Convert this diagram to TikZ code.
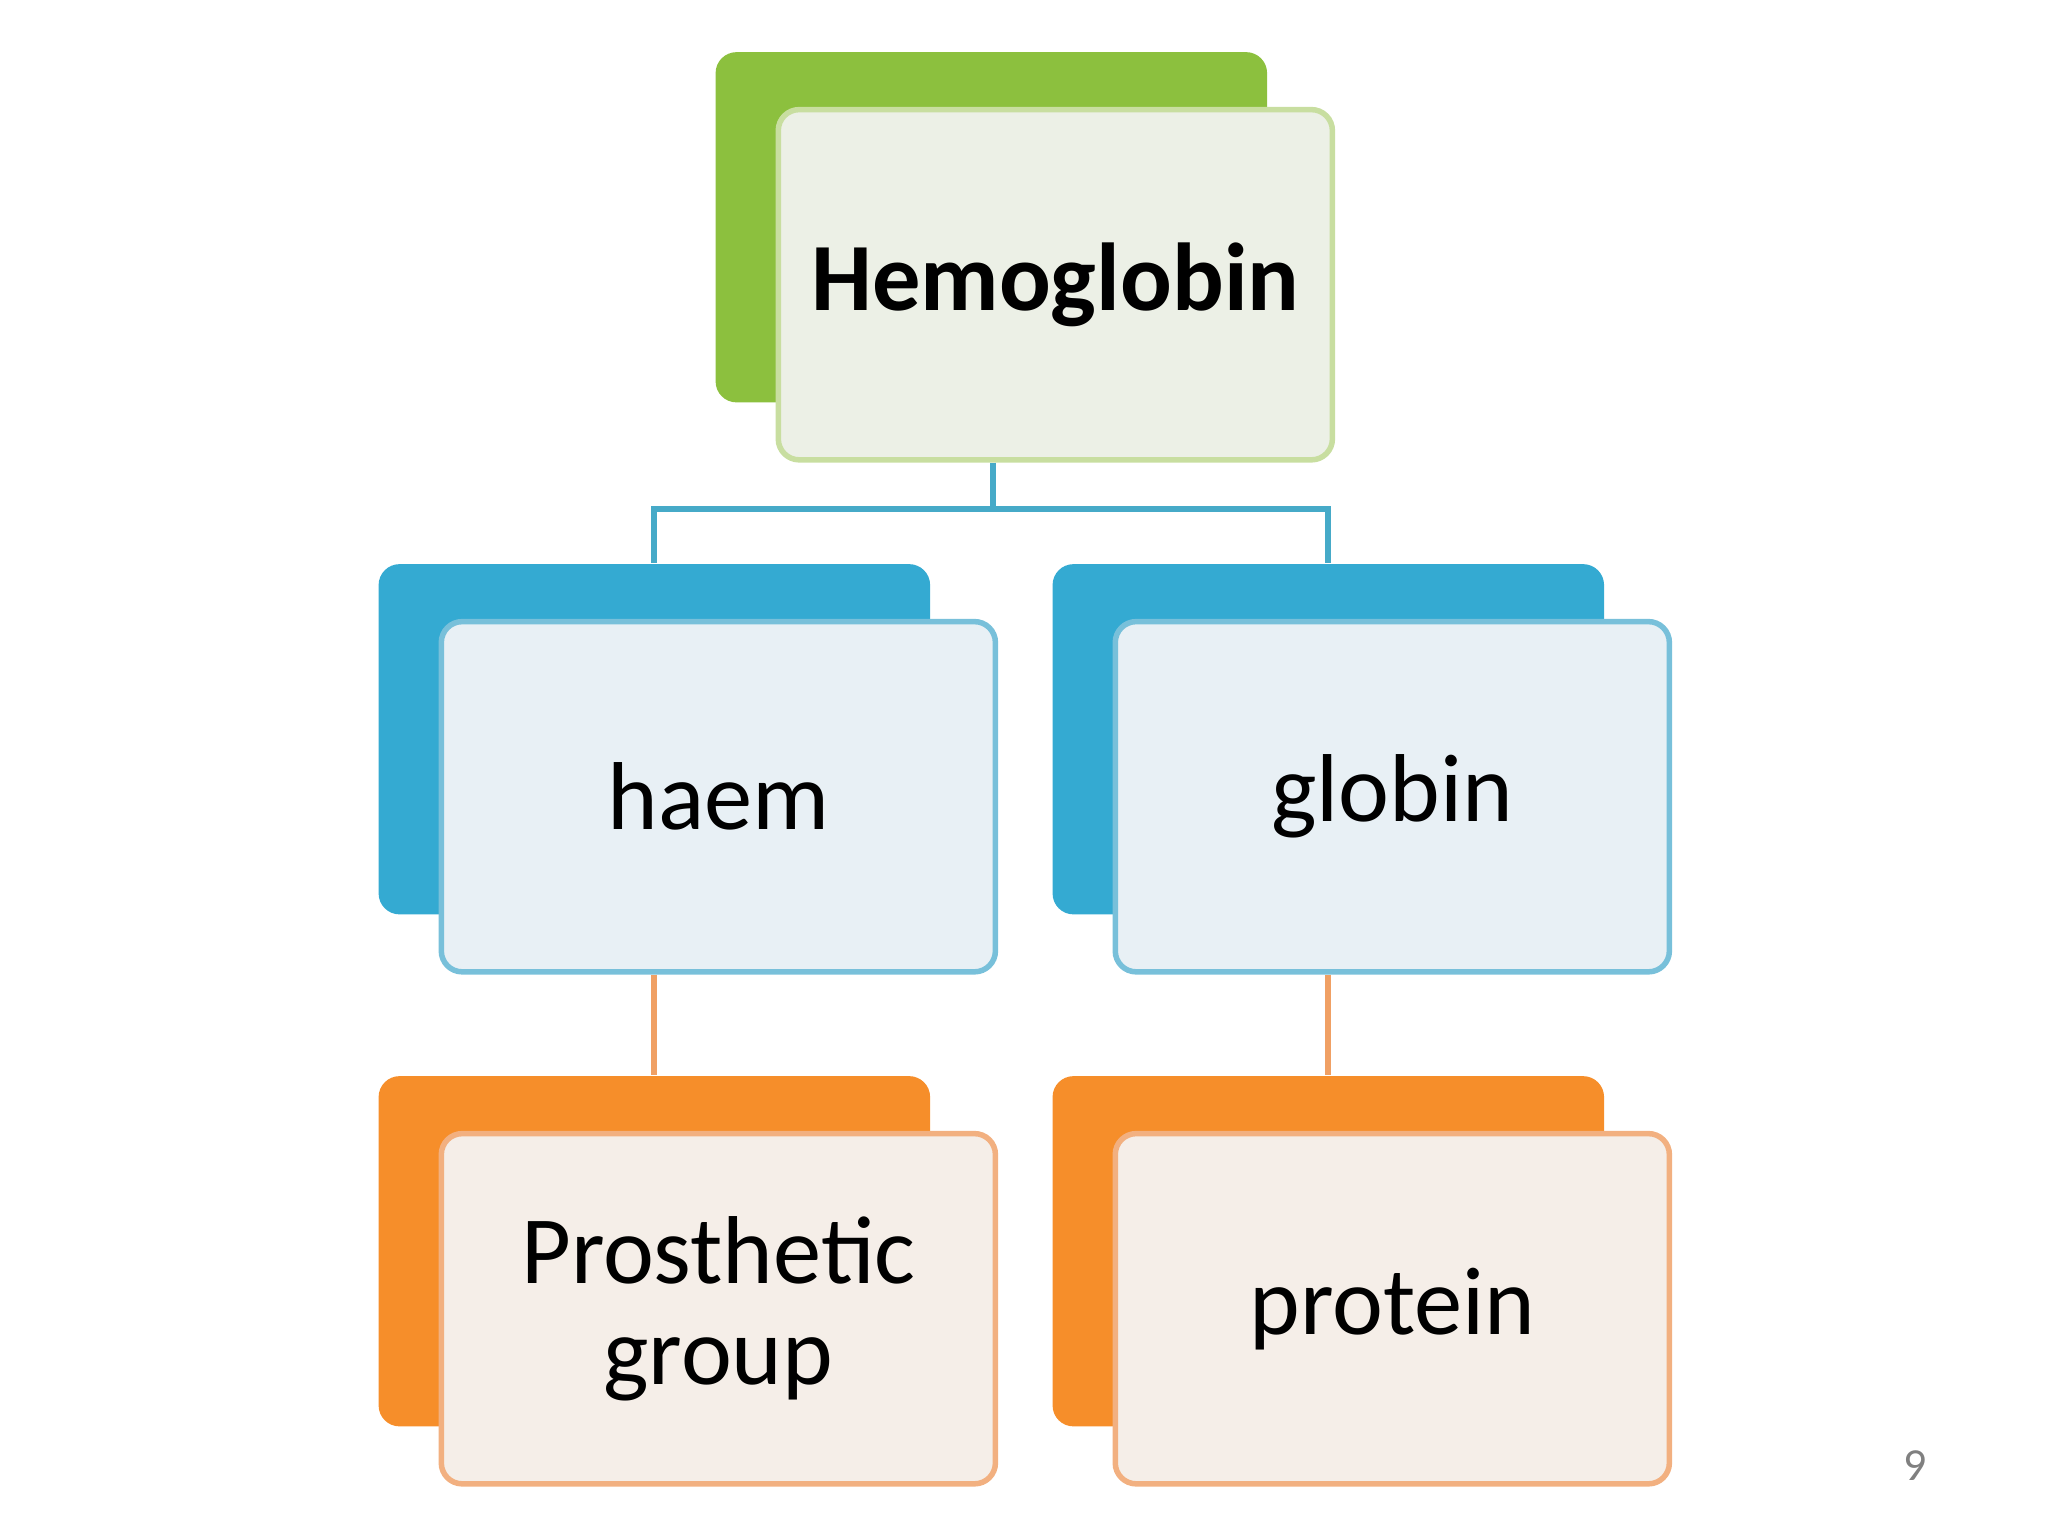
\documentclass[tikz,border=0pt]{standalone}
\usepackage{fontspec}
\setmainfont{Carlito}
\begin{document}
\begin{tikzpicture}[x=0.01cm,y=-0.01cm,
  back/.style={rounded corners=0.16cm,minimum width=4.22cm,minimum height=2.68cm,inner sep=0pt},
  front/.style={rounded corners=0.16cm,minimum width=4.24cm,minimum height=2.68cm,inner sep=0pt,line width=1.2pt,font=\fontsize{21}{26}\selectfont,align=center},
  conn/.style={line width=1.3pt}]
\definecolor{gB}{RGB}{140,192,62}\definecolor{gF}{RGB}{236,240,230}\definecolor{gL}{RGB}{200,222,160}
\definecolor{bB}{RGB}{52,170,210}\definecolor{bF}{RGB}{232,240,245}\definecolor{bL}{RGB}{120,192,218}
\definecolor{oB}{RGB}{246,142,42}\definecolor{oF}{RGB}{245,238,232}\definecolor{oL}{RGB}{242,176,128}
\definecolor{tealC}{RGB}{70,170,200}\definecolor{orC}{RGB}{240,160,100}
\useasboundingbox (0,0) rectangle (1568,1176);
% connectors
\coordinate (j1) at (760,390);
\node[back,fill=gB] (hb) at (759,174) {};
\node[back,fill=bB] (ab) at (501,566) {};
\node[back,fill=bB] (gb) at (1017,566) {};
\node[back,fill=oB] (pb) at (501,958) {};
\node[back,fill=oB] (rb) at (1017,958) {};
\node[front,fill=gF,draw=gL] (hem) at (808,218) {\textbf{Hemoglobin}};
\node[front,fill=bF,draw=bL] (haem) at (550,610) {haem};
\node[front,fill=bF,draw=bL] (glob) at (1066,610) {globin};
\node[front,fill=oF,draw=oL] (pros) at (550,1002) {Prosthetic\\[-4pt]group};
\node[front,fill=oF,draw=oL] (prot) at (1066,1002) {protein};
\draw[conn,tealC] (hem.south -| j1) -- (j1) -| (ab.north);
\draw[conn,tealC] (j1) -| (gb.north);
\draw[conn,orC] (haem.south -| ab.north) -- (pb.north);
\draw[conn,orC] (glob.south -| gb.north) -- (rb.north);
\node[text=gray,font=\fontsize{10}{12}\selectfont] (pg) at (1466,1122) {9};
\end{tikzpicture}
\end{document}
